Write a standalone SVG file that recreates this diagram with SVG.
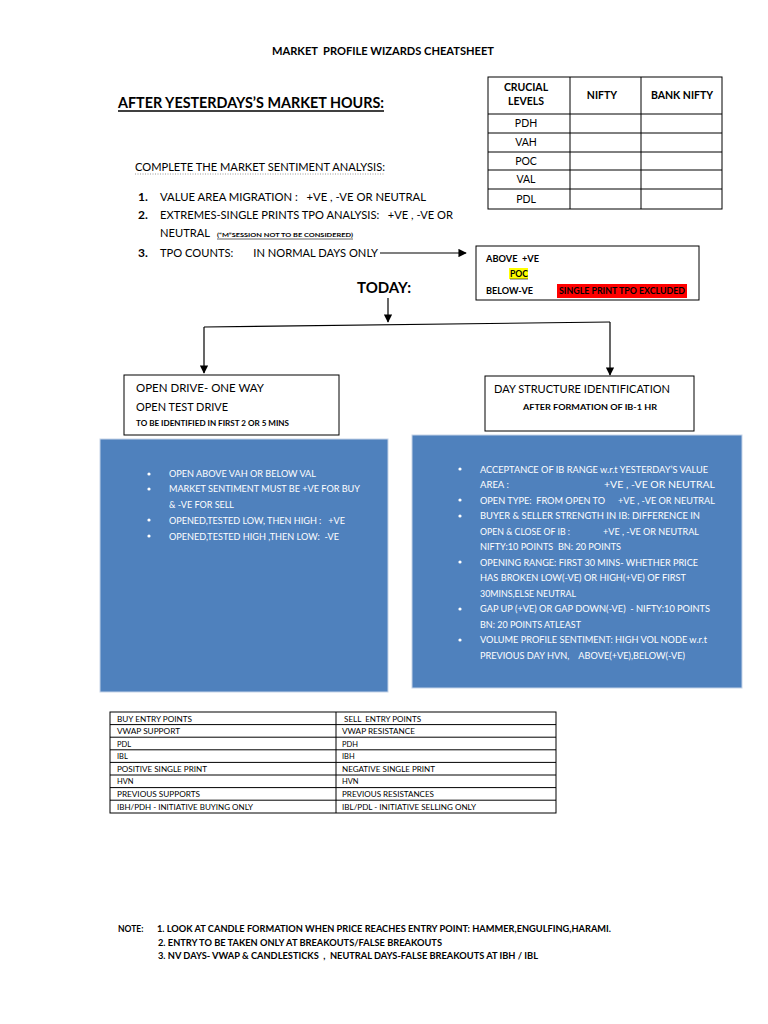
<svg xmlns="http://www.w3.org/2000/svg" width="768" height="1024" viewBox="0 0 768 1024">
<defs>
<style>
text{font-family:Lato,"Open Sans","Liberation Sans",sans-serif;fill:#000;white-space:pre}
.b{font-weight:bold}
.t12{font-size:12px}
.w{fill:#fff;font-size:9.5px}
.s8{font-size:8.8px}
.box{fill:#fff;stroke:#000;stroke-width:1}
.blue{fill:#4f81bd;stroke:#c5d3e8;stroke-width:1}
.ln{fill:none;stroke:#000;stroke-width:1.2}
.tb{fill:none;stroke:#000;stroke-width:1}
</style>
<marker id="ah" viewBox="0 0 10 10" refX="9" refY="5" markerWidth="7" markerHeight="7" orient="auto"><path d="M0,0 L10,5 L0,10 z" fill="#000"/></marker>
</defs>
<rect width="768" height="1024" fill="#fff"/>
<g id="header">
<text x="383" y="55" class="b" font-size="11" text-anchor="middle" textLength="222" lengthAdjust="spacingAndGlyphs">MARKET  PROFILE WIZARDS CHEATSHEET</text>
<text x="118" y="108" class="b" font-size="15" textLength="266" lengthAdjust="spacingAndGlyphs">AFTER YESTERDAYS’S MARKET HOURS:</text>
<line x1="118" y1="111" x2="384" y2="111" stroke="#000" stroke-width="1.3"/>
</g>
<g id="levels-table">
<rect x="488" y="77" width="234" height="132" class="tb"/>
<line x1="570" y1="77" x2="570" y2="209" class="tb"/>
<line x1="641" y1="77" x2="641" y2="209" class="tb"/>
<line x1="488" y1="114" x2="722" y2="114" class="tb"/>
<line x1="488" y1="133" x2="722" y2="133" class="tb"/>
<line x1="488" y1="152" x2="722" y2="152" class="tb"/>
<line x1="488" y1="170" x2="722" y2="170" class="tb"/>
<line x1="488" y1="189" x2="722" y2="189" class="tb"/>
<text x="526" y="91" class="b" font-size="10.5" text-anchor="middle">CRUCIAL</text>
<text x="526" y="105" class="b" font-size="10.5" text-anchor="middle">LEVELS</text>
<text x="602" y="99" class="b" font-size="10.5" text-anchor="middle">NIFTY</text>
<text x="682" y="99" class="b" font-size="10.5" text-anchor="middle">BANK NIFTY</text>
<text x="526" y="127" font-size="10.5" text-anchor="middle">PDH</text>
<text x="526" y="146" font-size="10.5" text-anchor="middle">VAH</text>
<text x="526" y="165" font-size="10.5" text-anchor="middle">POC</text>
<text x="526" y="183" font-size="10.5" text-anchor="middle">VAL</text>
<text x="526" y="203" font-size="10.5" text-anchor="middle">PDL</text>
</g>
<g id="sentiment">
<text x="135" y="171" class="t12" textLength="250" lengthAdjust="spacingAndGlyphs">COMPLETE THE MARKET SENTIMENT ANALYSIS:</text>
<line x1="135" y1="174" x2="385" y2="174" stroke="#999" stroke-width="1" stroke-dasharray="1,1.5"/>
<text x="138" y="201" class="t12 b">1.</text>
<text x="160" y="201" class="t12" textLength="266" lengthAdjust="spacingAndGlyphs">VALUE AREA MIGRATION :   +VE , -VE OR NEUTRAL</text>
<text x="138" y="219" class="t12 b">2.</text>
<text x="160" y="219" class="t12" textLength="293" lengthAdjust="spacingAndGlyphs">EXTREMES-SINGLE PRINTS TPO ANALYSIS:   +VE , -VE OR</text>
<text x="160" y="237" class="t12" textLength="50" lengthAdjust="spacingAndGlyphs">NEUTRAL</text>
<text x="217" y="237" class="b" font-size="5.5" textLength="136" lengthAdjust="spacingAndGlyphs">(“M”SESSION NOT TO BE CONSIDERED)</text>
<line x1="217" y1="239" x2="353" y2="239" stroke="#000" stroke-width="0.6"/>
<text x="138" y="257" class="t12 b">3.</text>
<text x="160" y="257" class="t12" textLength="218" lengthAdjust="spacingAndGlyphs">TPO COUNTS:       IN NORMAL DAYS ONLY</text>
</g>
<g id="tpo-box">
<rect x="476" y="246" width="223" height="54" class="box"/>
<text x="486" y="262" class="b s8" textLength="53" lengthAdjust="spacingAndGlyphs">ABOVE  +VE</text>
<rect x="509" y="268" width="19" height="11" fill="#ffff00"/>
<text x="510" y="277" class="b s8" textLength="18" lengthAdjust="spacingAndGlyphs">POC</text>
<line x1="510" y1="279" x2="528" y2="279" stroke="#000" stroke-width="0.6"/>
<text x="486" y="294" class="b s8" textLength="47" lengthAdjust="spacingAndGlyphs">BELOW-VE</text>
<rect x="557" y="284" width="130" height="14" fill="#ff0000"/>
<text x="559" y="294" class="b s8" textLength="126" lengthAdjust="spacingAndGlyphs">SINGLE PRINT TPO EXCLUDED</text>
</g>
<g id="today">
<text x="357" y="293" class="b" font-size="15">TODAY:</text>
</g>
<g id="connectors">
<line x1="380" y1="253" x2="466" y2="253" class="ln" marker-end="url(#ah)"/>
<line x1="388" y1="298" x2="388" y2="322" class="ln" marker-end="url(#ah)"/>
<polyline points="204,327 610,322" class="ln"/>
<line x1="204" y1="327" x2="204" y2="373" class="ln" marker-end="url(#ah)"/>
<line x1="610" y1="322" x2="610" y2="375" class="ln" marker-end="url(#ah)"/>
</g>
<g id="open-drive">
<rect x="124" y="375" width="215" height="60" class="box"/>
<text x="136" y="392" class="t12" textLength="128" lengthAdjust="spacingAndGlyphs">OPEN DRIVE- ONE WAY</text>
<text x="136" y="411" class="t12" textLength="92" lengthAdjust="spacingAndGlyphs">OPEN TEST DRIVE</text>
<text x="136" y="426" class="b" font-size="7.8" textLength="153" lengthAdjust="spacingAndGlyphs">TO BE IDENTIFIED IN FIRST 2 OR 5 MINS</text>
</g>
<g id="day-structure">
<rect x="485" y="376" width="209" height="55" class="box"/>
<text x="494" y="393" class="t12" textLength="176" lengthAdjust="spacingAndGlyphs">DAY STRUCTURE IDENTIFICATION</text>
<text x="523" y="410" class="b" font-size="7.8" textLength="134" lengthAdjust="spacingAndGlyphs">AFTER FORMATION OF IB-1 HR</text>
</g>
<g id="open-drive-details">
<rect x="100" y="439" width="288" height="253" class="blue"/>
<g fill="#fff">
<circle cx="149" cy="474" r="1.6"/><circle cx="149" cy="489" r="1.6"/><circle cx="149" cy="520" r="1.6"/><circle cx="149" cy="536" r="1.6"/>
</g>
<text x="169" y="477" class="w" textLength="147" lengthAdjust="spacingAndGlyphs">OPEN ABOVE VAH OR BELOW VAL</text>
<text x="169" y="492" class="w" textLength="191" lengthAdjust="spacingAndGlyphs">MARKET SENTIMENT MUST BE +VE FOR BUY</text>
<text x="169" y="508" class="w" textLength="65" lengthAdjust="spacingAndGlyphs">&amp; -VE FOR SELL</text>
<text x="169" y="524" class="w" textLength="176" lengthAdjust="spacingAndGlyphs">OPENED,TESTED LOW, THEN HIGH :   +VE</text>
<text x="169" y="540" class="w" textLength="170" lengthAdjust="spacingAndGlyphs">OPENED,TESTED HIGH ,THEN LOW:  -VE</text>
</g>
<g id="day-structure-details">
<rect x="412" y="435" width="330" height="253" class="blue"/>
<g fill="#fff">
<circle cx="460" cy="469" r="1.6"/><circle cx="460" cy="500" r="1.6"/><circle cx="460" cy="516" r="1.6"/><circle cx="460" cy="562" r="1.6"/><circle cx="460" cy="609" r="1.6"/><circle cx="460" cy="640" r="1.6"/>
</g>
<text x="480" y="473" class="w" textLength="228" lengthAdjust="spacingAndGlyphs">ACCEPTANCE OF IB RANGE w.r.t YESTERDAY’S VALUE</text>
<text x="480" y="488" class="w">AREA :</text>
<text x="604" y="488" class="w" textLength="111" lengthAdjust="spacingAndGlyphs">+VE , -VE OR NEUTRAL</text>
<text x="480" y="504" class="w" textLength="125" lengthAdjust="spacingAndGlyphs">OPEN TYPE:  FROM OPEN TO</text>
<text x="618" y="504" class="w" textLength="97" lengthAdjust="spacingAndGlyphs">+VE , -VE OR NEUTRAL</text>
<text x="480" y="519" class="w" textLength="220" lengthAdjust="spacingAndGlyphs">BUYER &amp; SELLER STRENGTH IN IB: DIFFERENCE IN</text>
<text x="480" y="535" class="w" textLength="90" lengthAdjust="spacingAndGlyphs">OPEN &amp; CLOSE OF IB :</text>
<text x="603" y="535" class="w" textLength="96" lengthAdjust="spacingAndGlyphs">+VE , -VE OR NEUTRAL</text>
<text x="480" y="550" class="w" textLength="141" lengthAdjust="spacingAndGlyphs">NIFTY:10 POINTS  BN: 20 POINTS</text>
<text x="480" y="566" class="w" textLength="218" lengthAdjust="spacingAndGlyphs">OPENING RANGE: FIRST 30 MINS- WHETHER PRICE</text>
<text x="480" y="581" class="w" textLength="206" lengthAdjust="spacingAndGlyphs">HAS BROKEN LOW(-VE) OR HIGH(+VE) OF FIRST</text>
<text x="480" y="597" class="w" textLength="96" lengthAdjust="spacingAndGlyphs">30MINS,ELSE NEUTRAL</text>
<text x="480" y="612" class="w" textLength="230" lengthAdjust="spacingAndGlyphs">GAP UP (+VE) OR GAP DOWN(-VE)  - NIFTY:10 POINTS</text>
<text x="480" y="628" class="w" textLength="101" lengthAdjust="spacingAndGlyphs">BN: 20 POINTS ATLEAST</text>
<text x="480" y="643" class="w" textLength="227" lengthAdjust="spacingAndGlyphs">VOLUME PROFILE SENTIMENT: HIGH VOL NODE w.r.t</text>
<text x="480" y="659" class="w" textLength="205" lengthAdjust="spacingAndGlyphs">PREVIOUS DAY HVN,    ABOVE(+VE),BELOW(-VE)</text>
</g>
<g id="entry-table">
<rect x="110" y="712" width="446" height="101" class="tb"/>
<line x1="336" y1="712" x2="336" y2="813" class="tb"/>
<line x1="110" y1="724.6" x2="556" y2="724.6" class="tb"/>
<line x1="110" y1="737.2" x2="556" y2="737.2" class="tb"/>
<line x1="110" y1="749.8" x2="556" y2="749.8" class="tb"/>
<line x1="110" y1="762.4" x2="556" y2="762.4" class="tb"/>
<line x1="110" y1="775" x2="556" y2="775" class="tb"/>
<line x1="110" y1="787.6" x2="556" y2="787.6" class="tb"/>
<line x1="110" y1="800.2" x2="556" y2="800.2" class="tb"/>
<g font-size="7.5">
<text x="117" y="721.5" textLength="75" lengthAdjust="spacingAndGlyphs">BUY ENTRY POINTS</text>
<text x="117" y="734" textLength="63" lengthAdjust="spacingAndGlyphs">VWAP SUPPORT</text>
<text x="117" y="746.6">PDL</text>
<text x="117" y="759.2">IBL</text>
<text x="117" y="771.8" textLength="90" lengthAdjust="spacingAndGlyphs">POSITIVE SINGLE PRINT</text>
<text x="117" y="784.4">HVN</text>
<text x="117" y="797" textLength="83" lengthAdjust="spacingAndGlyphs">PREVIOUS SUPPORTS</text>
<text x="117" y="809.6" textLength="136" lengthAdjust="spacingAndGlyphs">IBH/PDH - INITIATIVE BUYING ONLY</text>
<text x="342" y="721.5" textLength="79" lengthAdjust="spacingAndGlyphs"> SELL  ENTRY POINTS</text>
<text x="342" y="734" textLength="73" lengthAdjust="spacingAndGlyphs">VWAP RESISTANCE</text>
<text x="342" y="746.6">PDH</text>
<text x="342" y="759.2">IBH</text>
<text x="342" y="771.8" textLength="93" lengthAdjust="spacingAndGlyphs">NEGATIVE SINGLE PRINT</text>
<text x="342" y="784.4">HVN</text>
<text x="342" y="797" textLength="92" lengthAdjust="spacingAndGlyphs">PREVIOUS RESISTANCES</text>
<text x="342" y="809.6" textLength="134" lengthAdjust="spacingAndGlyphs">IBL/PDL - INITIATIVE SELLING ONLY</text>
</g>
</g>
<g id="notes">
<text x="118" y="932" class="b" font-size="8.5">NOTE:</text>
<text x="157" y="932" class="b" font-size="8.5" textLength="454" lengthAdjust="spacingAndGlyphs">1. LOOK AT CANDLE FORMATION WHEN PRICE REACHES ENTRY POINT: HAMMER,ENGULFING,HARAMI.</text>
<text x="158" y="946" class="b" font-size="8.5" textLength="284" lengthAdjust="spacingAndGlyphs">2. ENTRY TO BE TAKEN ONLY AT BREAKOUTS/FALSE BREAKOUTS</text>
<text x="158" y="959" class="b" font-size="8.5" textLength="380" lengthAdjust="spacingAndGlyphs">3. NV DAYS- VWAP &amp; CANDLESTICKS  ,  NEUTRAL DAYS-FALSE BREAKOUTS AT IBH / IBL</text>
</g>
</svg>
